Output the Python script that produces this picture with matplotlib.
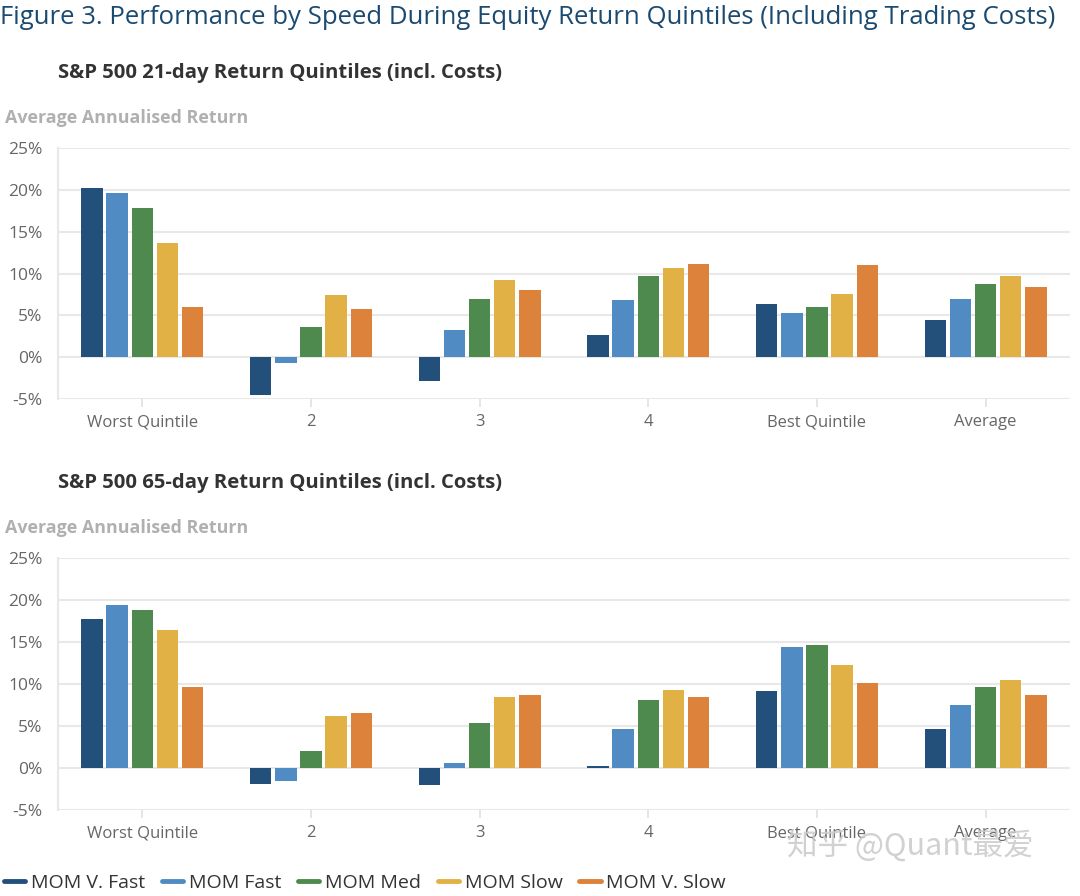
import numpy as np
import matplotlib.pyplot as plt
from matplotlib.lines import Line2D

plt.rcParams['font.family'] = ['Open Sans', 'DejaVu Sans']

categories = ['Worst Quintile', '2', '3', '4', 'Best Quintile', 'Average']
series = ['MOM V. Fast', 'MOM Fast', 'MOM Med', 'MOM Slow', 'MOM V. Slow']
colors = ['#22507a', '#508cc3', '#4e8a4d', '#e1b145', '#dc823a']

# 21-day return quintiles (incl. costs), % annualised
r21_vfast = [20.2, -4.5, -2.8, 2.7, 6.3, 4.4]
r21_fast = [19.6, -0.7, 3.3, 6.8, 5.3, 6.9]
r21_med = [17.8, 3.6, 6.9, 9.7, 6.0, 8.8]
r21_slow = [13.7, 7.4, 9.2, 10.7, 7.6, 9.7]
r21_vslow = [6.0, 5.7, 8.0, 11.1, 11.0, 8.4]

# 65-day return quintiles (incl. costs)
r65_vfast = [17.7, -1.9, -2.0, 0.2, 9.2, 4.6]
r65_fast = [19.4, -1.5, 0.6, 4.7, 14.4, 7.5]
r65_med = [18.8, 2.0, 5.3, 8.1, 14.6, 9.7]
r65_slow = [16.4, 6.2, 8.5, 9.3, 12.3, 10.5]
r65_vslow = [9.6, 6.5, 8.7, 8.5, 10.1, 8.7]

panels = [
    ('S&P 500 21-day Return Quintiles (incl. Costs)',
     [r21_vfast, r21_fast, r21_med, r21_slow, r21_vslow]),
    ('S&P 500 65-day Return Quintiles (incl. Costs)',
     [r65_vfast, r65_fast, r65_med, r65_slow, r65_vslow]),
]

fig = plt.figure(figsize=(10.8, 8.96), dpi=100)

fig.text(0.0, 0.981, 'Figure 3. Performance by Speed During Equity Return Quintiles (Including Trading Costs)',
         fontsize=18.5, color='#1b4a70', va='center', ha='left')

ax_boxes = [[0.0537, 0.5547, 0.937, 0.2801], [0.0537, 0.0960, 0.937, 0.2812]]
sub_y = [0.9185, 0.461]
lab_y = [0.868, 0.411]

x = np.arange(len(categories))
slot = 0.149
bw = 0.127

for (sub, data), box, sy, ly in zip(panels, ax_boxes, sub_y, lab_y):
    ax = fig.add_axes(box)
    for i, (vals, c) in enumerate(zip(data, colors)):
        ax.bar(x + (i - 2) * slot, vals, width=bw, color=c, zorder=3)
    ax.set_xlim(-0.5, 5.5)
    ax.set_ylim(-5, 25)
    ax.set_yticks(range(-5, 30, 5))
    ax.set_yticklabels([f'{v}%' for v in range(-5, 30, 5)])
    ax.set_xticks(x)
    ax.set_xticklabels(categories)
    ax.grid(axis='y', color='#e8e8e8', linewidth=1.5, zorder=0)
    for s in ['top', 'right', 'bottom']:
        ax.spines[s].set_visible(False)
    ax.spines['left'].set_color('#e8e8e8')
    ax.spines['left'].set_linewidth(1.5)
    ax.tick_params(axis='y', length=0, labelsize=12.5, labelcolor='#666666', pad=11)
    ax.tick_params(axis='x', length=6, color='#e0e0e0', width=1.2, labelsize=12,
                   labelcolor='#666666', pad=5)
    fig.text(0.0537, sy, sub, fontsize=14.6, fontweight='bold', color='#333333', va='center')
    fig.text(0.005, ly, 'Average Annualised Return', fontsize=12.9, fontweight='bold',
             color='#b0b0b0', va='center')

handles = [Line2D([0], [0], color=c, lw=3.5, solid_capstyle='round') for c in colors]
fig.legend(handles, series, loc='lower left', bbox_to_anchor=(0.0, 0.0), ncol=5,
           frameon=False, fontsize=14, handlelength=1.1, handletextpad=0.3,
           columnspacing=0.85, borderaxespad=0.0, borderpad=0.2, labelcolor='#333333')

fig.text(0.957, 0.056, '知乎 @Quant最爱', fontsize=22, color='#cccccc', alpha=0.9,
         ha='right', va='center', family=['Noto Sans CJK SC', 'DejaVu Sans'])

plt.savefig('out.png', dpi=100)
